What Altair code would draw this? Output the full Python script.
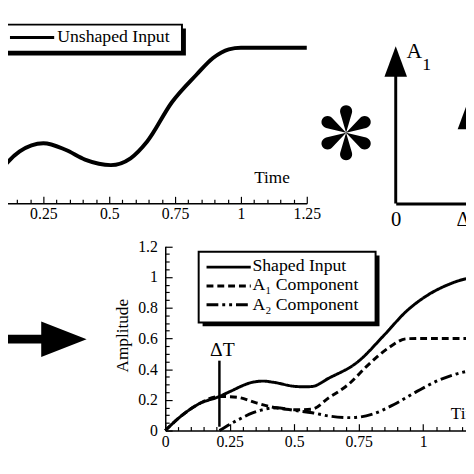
import math
import altair as alt
import pandas as pd

FONT = "Liberation Serif"
W, H = 466, 450

# ---------------- data ----------------
# Top-left panel: unshaped input (time, amplitude)
un_t = [0.0, 0.04, 0.085, 0.16, 0.25, 0.334, 0.408, 0.506, 0.581, 0.644, 0.738, 0.831, 0.894, 0.954, 1.0, 1.25]
un_v = [0.0, 0.10, 0.206, 0.332, 0.385, 0.343, 0.28, 0.244, 0.288, 0.396, 0.649, 0.826, 0.934, 0.99, 1.0, 1.0]

# Bottom-right panel
sh_t = [0.0, 0.062, 0.126, 0.21, 0.252, 0.34, 0.38, 0.417, 0.506, 0.54, 0.57, 0.633, 0.747, 0.848, 0.937, 1.013, 1.09, 1.165, 1.22]
sh_v = [0.0, 0.095, 0.17, 0.222, 0.255, 0.315, 0.322, 0.315, 0.287, 0.285, 0.287, 0.34, 0.448, 0.62, 0.78, 0.877, 0.945, 0.988, 1.0]

a1_t = [0.0, 0.062, 0.126, 0.21, 0.278, 0.353, 0.43, 0.506, 0.57, 0.633, 0.71, 0.786, 0.862, 0.937, 1.013, 1.1, 1.22]
a1_v = [0.0, 0.095, 0.17, 0.222, 0.217, 0.18, 0.148, 0.135, 0.14, 0.212, 0.3, 0.426, 0.534, 0.598, 0.6, 0.6, 0.6]

a2_t = [0.21, 0.278, 0.341, 0.43, 0.506, 0.57, 0.633, 0.72, 0.80, 0.887, 0.976, 1.064, 1.165, 1.22]
a2_v = [0.0, 0.066, 0.116, 0.148, 0.13, 0.116, 0.095, 0.084, 0.105, 0.17, 0.255, 0.33, 0.384, 0.4]

series_names = ["Shaped Input", "A\u2081 Component", "A\u2082 Component"]
series_dash = [[1, 0], [7, 4], [12, 4, 3, 4, 3, 4]]

# Impulse sequence
imp_t = [0.0, 0.21]
imp_a = [0.6, 0.4]
imp_sub = ["1", "2"]
dT = 0.21

# tick values
tl_major = [0.25, 0.5, 0.75, 1.0, 1.25]
x_major = [0.0, 0.25, 0.5, 0.75, 1.0, 1.25]
x_minor = [round(i * 0.05, 2) for i in range(26) if i % 5]
y_major = [0.0, 0.2, 0.4, 0.6, 0.8, 1.0, 1.2]
y_minor = [round(i * 0.05, 2) for i in range(25) if i % 4]

# ---------------- scales (pixel ranges inside the canvas) ----------------
TL_X = alt.Scale(domain=[0, 1.25], range=[-31, 304], nice=False, zero=False)
TL_Y = alt.Scale(domain=[0, 1], range=[194.5, 36.5], nice=False, zero=False)
BR_X = alt.Scale(domain=[0, 1.25], range=[160, 488], nice=False, zero=False)
BR_Y = alt.Scale(domain=[0, 1.2], range=[426, 238.5], nice=False, zero=False)
IM_X = alt.Scale(domain=[0, 0.21], range=[394.5, 469], nice=False, zero=False)
IM_Y = alt.Scale(domain=[0, 0.6], range=[195, 35], nice=False, zero=False)

LBL = dict(labelFont=FONT, labelColor="black", labelFlush=False, labelOverlap=False, labelBound=False,
           ticks=False, domain=False, grid=False)
TTL = dict(titleFont=FONT, titleFontSize=17.5, titleFontWeight="normal", titleColor="black")
TICK_FS = 16


def tick_layer(values, scale, channel, orient, offset, size, domain=False, dw=1.5):
    df = pd.DataFrame({"v": values})
    ax = alt.Axis(orient=orient, offset=offset, values=values, labels=False, ticks=True,
                  tickSize=size, tickWidth=1.2, tickColor="black", domain=domain,
                  domainColor="black", domainWidth=dw, grid=False, title=None)
    base = alt.Chart(df).mark_point(opacity=0)
    if channel == "x":
        return base.encode(x=alt.X("v:Q", scale=scale, axis=ax), y=alt.value(0))
    return base.encode(y=alt.Y("v:Q", scale=scale, axis=ax), x=alt.value(0))


layers = []

# ---------- top-left panel ----------
tl_df = pd.DataFrame({"t": un_t, "v": un_v})
tl_xax = alt.Axis(orient="bottom", offset=194.7 - H, values=tl_major, labelExpr="'' + datum.value",
                  labelFontSize=TICK_FS, labelPadding=3, title="Time", titleX=250, titleY=-26,
                  titleAlign="left", titleBaseline="middle", titleAngle=0, **LBL, **TTL)
layers.append(alt.Chart(tl_df).mark_line(color="black", strokeWidth=4, interpolate="monotone").encode(
    x=alt.X("t:Q", scale=TL_X, axis=tl_xax), y=alt.Y("v:Q", scale=TL_Y, axis=None)))
layers.append(tick_layer(tl_major, TL_X, "x", "top", -194.7, 7, domain=True))
layers.append(tick_layer(x_minor, TL_X, "x", "top", -194.7, 4))

# ---------- bottom-right panel ----------
rows = []
for name, ts, vs in zip(series_names, [sh_t, a1_t, a2_t], [sh_v, a1_v, a2_v]):
    for t, v in zip(ts, vs):
        rows.append({"s": name, "t": t, "v": v})
br_df = pd.DataFrame(rows)
br_xax = alt.Axis(orient="bottom", offset=426 - H, values=x_major, labelExpr="'' + datum.value",
                  labelFontSize=TICK_FS, labelPadding=3, title="Time", titleX=450, titleY=-17,
                  titleAlign="left", titleBaseline="middle", titleAngle=0, **LBL, **TTL)
br_yax = alt.Axis(orient="left", offset=-160, values=y_major, labelExpr="'' + datum.value",
                  labelFontSize=TICK_FS, labelPadding=8, title="Amplitude", titleX=-43, titleY=329,
                  titleAngle=270, titleAlign="center", titleBaseline="middle", **LBL, **TTL)
layers.append(alt.Chart(br_df).mark_line(color="black", strokeWidth=3, interpolate="monotone").encode(
    x=alt.X("t:Q", scale=BR_X, axis=br_xax),
    y=alt.Y("v:Q", scale=BR_Y, axis=br_yax),
    strokeDash=alt.StrokeDash("s:N", scale=alt.Scale(domain=series_names, range=series_dash), legend=None)))
layers.append(tick_layer(x_major, BR_X, "x", "top", -426, 7, domain=True))
layers.append(tick_layer(x_minor, BR_X, "x", "top", -426, 4))
layers.append(tick_layer(y_major, BR_Y, "y", "right", 160 - W, 7, domain=True))
layers.append(tick_layer(y_minor, BR_Y, "y", "right", 160 - W, 4))

# Delta-T marker
dt_df = pd.DataFrame({"t": [dT], "y0": [0.025], "y1": [0.455], "ty": [0.525], "lab": ["\u0394T"]})
layers.append(alt.Chart(dt_df).mark_rule(color="black", strokeWidth=2.5).encode(
    x=alt.X("t:Q", scale=BR_X, axis=None), y=alt.Y("y0:Q", scale=BR_Y, axis=None), y2="y1:Q"))
layers.append(alt.Chart(dt_df).mark_text(font=FONT, fontSize=20, align="center", baseline="middle", dx=3,
                                          color="black").encode(
    x=alt.X("t:Q", scale=BR_X, axis=None), y=alt.Y("ty:Q", scale=BR_Y, axis=None), text="lab:N"))

# ---------- impulse sequence ----------
imp_df = pd.DataFrame({"t": imp_t, "a": imp_a, "sub": imp_sub, "A": ["A", "A"]})
imp_xax = alt.Axis(orient="bottom", offset=195 - H, values=imp_t,
                   labelExpr="datum.value == 0 ? '0' : '\u0394T'", labelFont=FONT, labelFontSize=21,
                   labelColor="black", labelPadding=5, labelFlush=False, labelOverlap=False, ticks=False,
                   domain=True, domainColor="black", domainWidth=3, grid=False, title=None)
layers.append(alt.Chart(imp_df).transform_calculate(zero="0", top="datum.a - 0.06").mark_rule(
    color="black", strokeWidth=3).encode(
    x=alt.X("t:Q", scale=IM_X, axis=imp_xax), y=alt.Y("zero:Q", scale=IM_Y, axis=None), y2="top:Q"))
layers.append(alt.Chart(imp_df).mark_point(shape="M0,0L0.37,1L-0.37,1Z", size=3844, filled=True,
                                            color="black", opacity=1, strokeWidth=0).encode(
    x=alt.X("t:Q", scale=IM_X, axis=None), y=alt.Y("a:Q", scale=IM_Y, axis=None)))
layers.append(alt.Chart(imp_df).mark_text(font=FONT, fontSize=22, align="left", baseline="alphabetic",
                                           dx=11, dy=12, color="black").encode(
    x=alt.X("t:Q", scale=IM_X, axis=None), y=alt.Y("a:Q", scale=IM_Y, axis=None), text="A:N"))
layers.append(alt.Chart(imp_df).mark_text(font=FONT, fontSize=18, align="left", baseline="alphabetic",
                                           dx=27, dy=24, color="black").encode(
    x=alt.X("t:Q", scale=IM_X, axis=None), y=alt.Y("a:Q", scale=IM_Y, axis=None), text="sub:N"))


# ---------- convolution symbol (six teardrop petals) and big arrow ----------
def asterisk_path(c=0.78, r=0.22, n=14):
    parts = []
    phi0 = math.acos(-r / c)
    for k in range(6):
        th = math.radians(90 + 60 * k)
        ux, uy = math.cos(th), -math.sin(th)
        vx, vy = -uy, ux
        pts = ["M0,0"]
        for j in range(n + 1):
            phi = phi0 - 2 * phi0 * j / n
            lx, ly = c + r * math.cos(phi), r * math.sin(phi)
            px, py = lx * ux + ly * vx, lx * uy + ly * vy
            pts.append("L%.4f,%.4f" % (px, py))
        pts.append("Z")
        parts.append("".join(pts))
    return "".join(parts)


layers.append(alt.Chart(pd.DataFrame({"k": [0]})).mark_point(
    shape=asterisk_path(), size=3136, filled=True, color="black", opacity=1, strokeWidth=0).encode(
    x=alt.value(344), y=alt.value(123)))
ARROW = "M-1,-0.1L-0.05,-0.1L-0.05,-0.41L1,0L-0.05,0.41L-0.05,0.1L-1,0.1Z"
layers.append(alt.Chart(pd.DataFrame({"k": [0]})).mark_point(
    shape=ARROW, size=7744, filled=True, color="black", opacity=1, strokeWidth=0).encode(
    x=alt.value(36), y=alt.value(333)))


# ---------- legends ----------
def box(x0, y0, x1, y1):
    d = pd.DataFrame({"k": [0]})
    sh = alt.Chart(d).mark_rect(color="black").encode(
        x=alt.value(x0 + 4), x2=alt.value(x1 + 4), y=alt.value(y0 + 4), y2=alt.value(y1 + 4))
    bx = alt.Chart(d).mark_rect(fill="white", stroke="black", strokeWidth=2).encode(
        x=alt.value(x0), x2=alt.value(x1), y=alt.value(y0), y2=alt.value(y1))
    return [sh, bx]


def entry(label, dash, lx0, lx1, ly, tx, ty):
    d = pd.DataFrame({"lab": [label]})
    ln = alt.Chart(d).mark_rule(color="black", strokeWidth=3, strokeDash=dash).encode(
        x=alt.value(lx0), x2=alt.value(lx1), y=alt.value(ly))
    tt = alt.Chart(d).mark_text(font=FONT, fontSize=18, align="left", baseline="alphabetic",
                                color="black").encode(x=alt.value(tx), y=alt.value(ty), text="lab:N")
    return [ln, tt]


layers += box(-5, 13, 177, 40.5)
layers += entry("Unshaped Input", [1, 0], 2, 47, 26, 50, 30.5)
layers += box(194, 244, 374, 316)
for i, (nm, ds) in enumerate(zip(series_names, series_dash)):
    layers += entry(nm, ds, 202, 247, 259.7 + 19.2 * i, 248.7, 263.7 + 19.8 * i)

chart = alt.layer(*layers).resolve_scale(x="independent", y="independent").properties(
    width=W, height=H, autosize=alt.AutoSizeParams(type="none"), padding=0, background="white"
).configure_view(strokeWidth=0)

chart.save("out.html", embed_options={"renderer": "svg", "actions": False})
